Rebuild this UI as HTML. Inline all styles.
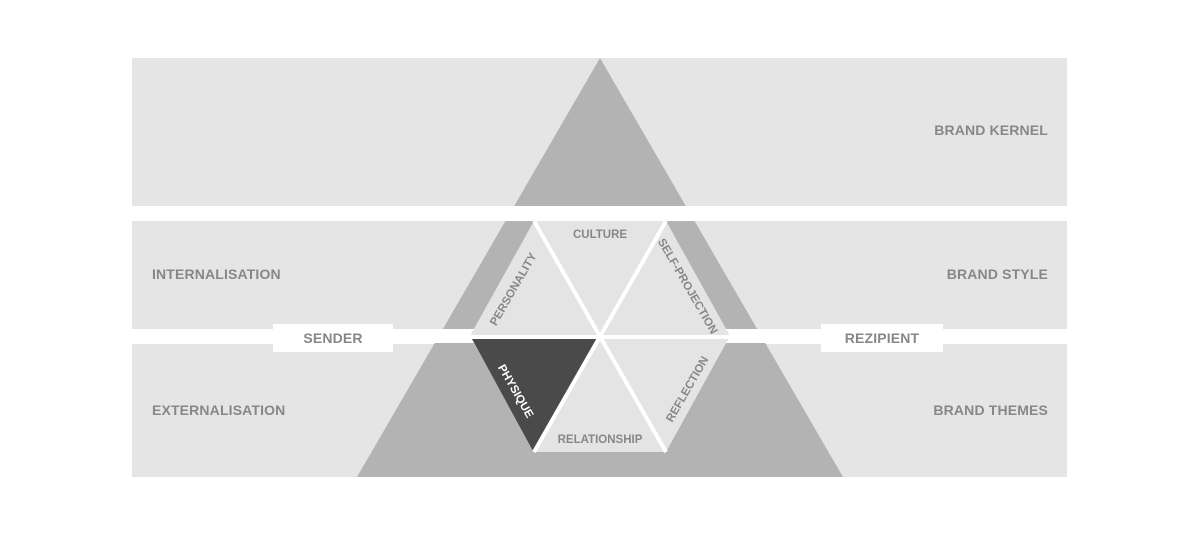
<!DOCTYPE html>
<html><head><meta charset="utf-8"><style>
html,body{margin:0;padding:0;background:#fff;}
svg{display:block;}
text{font-family:"Liberation Sans",sans-serif;font-weight:bold;fill:#878787;font-size:13px;}
.b{font-size:14px;letter-spacing:0.15px;}
.h{font-size:11.5px;}
</style></head><body>
<svg width="1200" height="536" viewBox="0 0 1200 536">
<rect x="0" y="0" width="1200" height="536" fill="#fff"/>
<rect x="132" y="58" width="935" height="148" fill="#e5e5e5"/>
<rect x="132" y="221" width="935" height="108" fill="#e5e5e5"/>
<rect x="132" y="344" width="935" height="133" fill="#e5e5e5"/>
<polygon points="600,58 843,477 357,477" fill="#b3b3b3"/>
<rect x="132" y="206" width="935" height="15" fill="#fff"/>
<rect x="132" y="329" width="935" height="14" fill="#fff"/>
<polygon points="534,221 666,221 730,336 666,452 534,452 470,336" fill="#e4e4e4"/>
<polygon points="472,339 597,339 533,451" fill="#4a4a4a"/>
<g stroke="#fff" stroke-width="4">
<line x1="534" y1="221" x2="666" y2="452"/>
<line x1="666" y1="221" x2="534" y2="452"/>
<line x1="466" y1="337" x2="734" y2="337"/>
</g>
<rect x="273" y="324" width="120" height="28" fill="#fff"/>
<rect x="821" y="324" width="122" height="28" fill="#fff"/>
<text class="b" x="333" y="343" text-anchor="middle">SENDER</text>
<text class="b" x="882" y="343" text-anchor="middle">REZIPIENT</text>
<text class="b" x="1048" y="135" text-anchor="end">BRAND KERNEL</text>
<text class="b" x="1048" y="279" text-anchor="end">BRAND STYLE</text>
<text class="b" x="1048" y="415" text-anchor="end">BRAND THEMES</text>
<text class="b" x="152" y="279">INTERNALISATION</text>
<text class="b" x="152" y="415">EXTERNALISATION</text>
<text class="h" x="600" y="238" text-anchor="middle">CULTURE</text>
<text class="h" x="600" y="443" text-anchor="middle">RELATIONSHIP</text>
<text class="h" transform="translate(513,289) rotate(-60)" text-anchor="middle" dy="4">PERSONALITY</text>
<text class="h" transform="translate(688,286) rotate(60)" text-anchor="middle" dy="4">SELF-PROJECTION</text>
<text class="h" transform="translate(516,391) rotate(60)" text-anchor="middle" dy="4" style="fill:#fff">PHYSIQUE</text>
<text class="h" transform="translate(687,389) rotate(-60)" text-anchor="middle" dy="4">REFLECTION</text>
</svg>
</body></html>
